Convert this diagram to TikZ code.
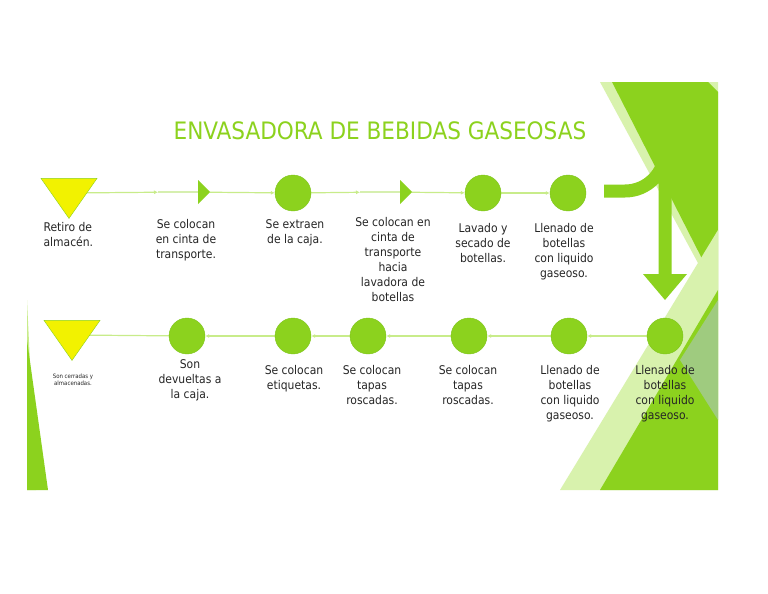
\documentclass[tikz,border=0pt]{standalone}
\usepackage{fontspec}
\setmainfont{DejaVu Sans Condensed}
\usetikzlibrary{shapes.geometric,shapes.arrows,arrows.meta}
\pgfdeclarelayer{bg}
\pgfsetlayers{bg,main}
\definecolor{gA}{HTML}{8CD21E}
\definecolor{gB}{HTML}{7DC41A}
\definecolor{gL}{HTML}{C8EC8A}
\definecolor{gD}{HTML}{5FA82A}
\definecolor{yel}{HTML}{F2F200}
\tikzset{
 circ/.style={circle,fill=gA,draw=gB,minimum size=36pt,inner sep=0},
 tri/.style={isosceles triangle,shape border rotate=-90,isosceles triangle apex angle=70,fill=yel,draw=gA,minimum width=56pt,minimum height=38pt,inner sep=0},
 blk/.style={single arrow,fill=gA,minimum height=52pt,minimum width=36pt,single arrow head extend=6pt,inner sep=0pt,single arrow head indent=0pt},
 lab/.style={align=center,font=\fontsize{12}{15}\selectfont,text=black!85,anchor=north},
 con/.style={draw=gL,line width=1.2pt,-{Latex[length=4pt,width=4pt]}}
}
\begin{document}
\begin{tikzpicture}[x=1pt,y=-1pt]
\useasboundingbox (0,0) rectangle (768,594);
\begin{pgfonlayer}{bg}
\fill[white] (0,0) rectangle (768,594);
\fill[white] (27,82) rectangle (718,490);
\fill[gL!70] (600,82) -- (718,82) -- (718,300) -- cycle;
\fill[gA] (612,82) -- (708,82) -- (718,92) -- (718,290) -- cycle;
\fill[gL!70] (718,230) -- (718,490) -- (560,490) -- cycle;
\fill[gA] (718,290) -- (718,490) -- (600,490) -- cycle;
\fill[gD!60] (718,300) -- (718,420) -- (680,360) -- cycle;
\fill[gL] (27,300) -- (36,490) -- (27,490) -- cycle;
\fill[gA] (27,340) -- (48,490) -- (27,490) -- cycle;
\end{pgfonlayer}
\node[font=\fontsize{24}{28}\selectfont,text=gA] (title) at (380,131) {ENVASADORA DE BEBIDAS GASEOSAS};
% top row
\node[tri] (t1) at (69,193) {};
\node[blk,minimum width=24pt] (a1) at (184,192) {};
\node[circ] (c1) at (293,193) {};
\node[blk,minimum width=24pt] (a2) at (386,192) {};
\node[circ] (c2) at (483,193) {};
\node[circ] (c3) at (568,193) {};
\begin{pgfonlayer}{bg}
\draw[con] (t1.center) -- (a1);
\draw[con] (a1) -- (c1);
\draw[con] (c1) -- (a2);
\draw[con] (a2) -- (c2);
\draw[con] (c2) -- (c3);
\end{pgfonlayer}
% curved big arrow
\coordinate (cs) at (604,191);
\coordinate (ce) at (665,300);
\draw[gA,line width=13pt] (cs) -- (625,191) arc[start angle=90,end angle=0,radius=40] -- (665,275);
\fill[gA] (643,274) -- (687,274) -- (ce) -- cycle;
% bottom row
\node[tri] (t2) at (72,335) {};
\node[circ] (d1) at (187,336) {};
\node[circ] (d2) at (293,336) {};
\node[circ] (d3) at (368,336) {};
\node[circ] (d4) at (469,336) {};
\node[circ] (d5) at (569,336) {};
\node[circ] (d6) at (665,336) {};
\begin{pgfonlayer}{bg}
\draw[con] (d6) -- (d5);
\draw[con] (d5) -- (d4);
\draw[con] (d4) -- (d3);
\draw[con] (d3) -- (d2);
\draw[con] (d2) -- (d1);
\draw[con] (d1) -- (t2.center);
\end{pgfonlayer}
% labels
\node[lab,anchor=north west,align=left] (l1) at (40,219) {Retiro de\\almacén.};
\node[lab] (l2) at (186,216) {Se colocan\\en cinta de\\transporte.};
\node[lab] (l3) at (295,216) {Se extraen\\de la caja.};
\node[lab] (l4) at (393,214) {Se colocan en\\cinta de\\transporte\\hacia\\lavadora de\\botellas};
\node[lab] (l5) at (483,220) {Lavado y\\secado de\\botellas.};
\node[lab] (l6) at (564,220) {Llenado de\\botellas\\con liquido\\gaseoso.};
\node[lab,font=\fontsize{6}{7}\selectfont] (m1) at (73,370) {Son cerradas y\\almacenadas.};
\node[lab] (m2) at (190,356) {Son\\devueltas a\\la caja.};
\node[lab] (m3) at (294,362) {Se colocan\\etiquetas.};
\node[lab] (m4) at (372,362) {Se colocan\\tapas\\roscadas.};
\node[lab] (m5) at (468,362) {Se colocan\\tapas\\roscadas.};
\node[lab] (m6) at (570,362) {Llenado de\\botellas\\con liquido\\gaseoso.};
\node[lab] (m7) at (665,362) {Llenado de\\botellas\\con liquido\\gaseoso.};
\end{tikzpicture}
\end{document}
